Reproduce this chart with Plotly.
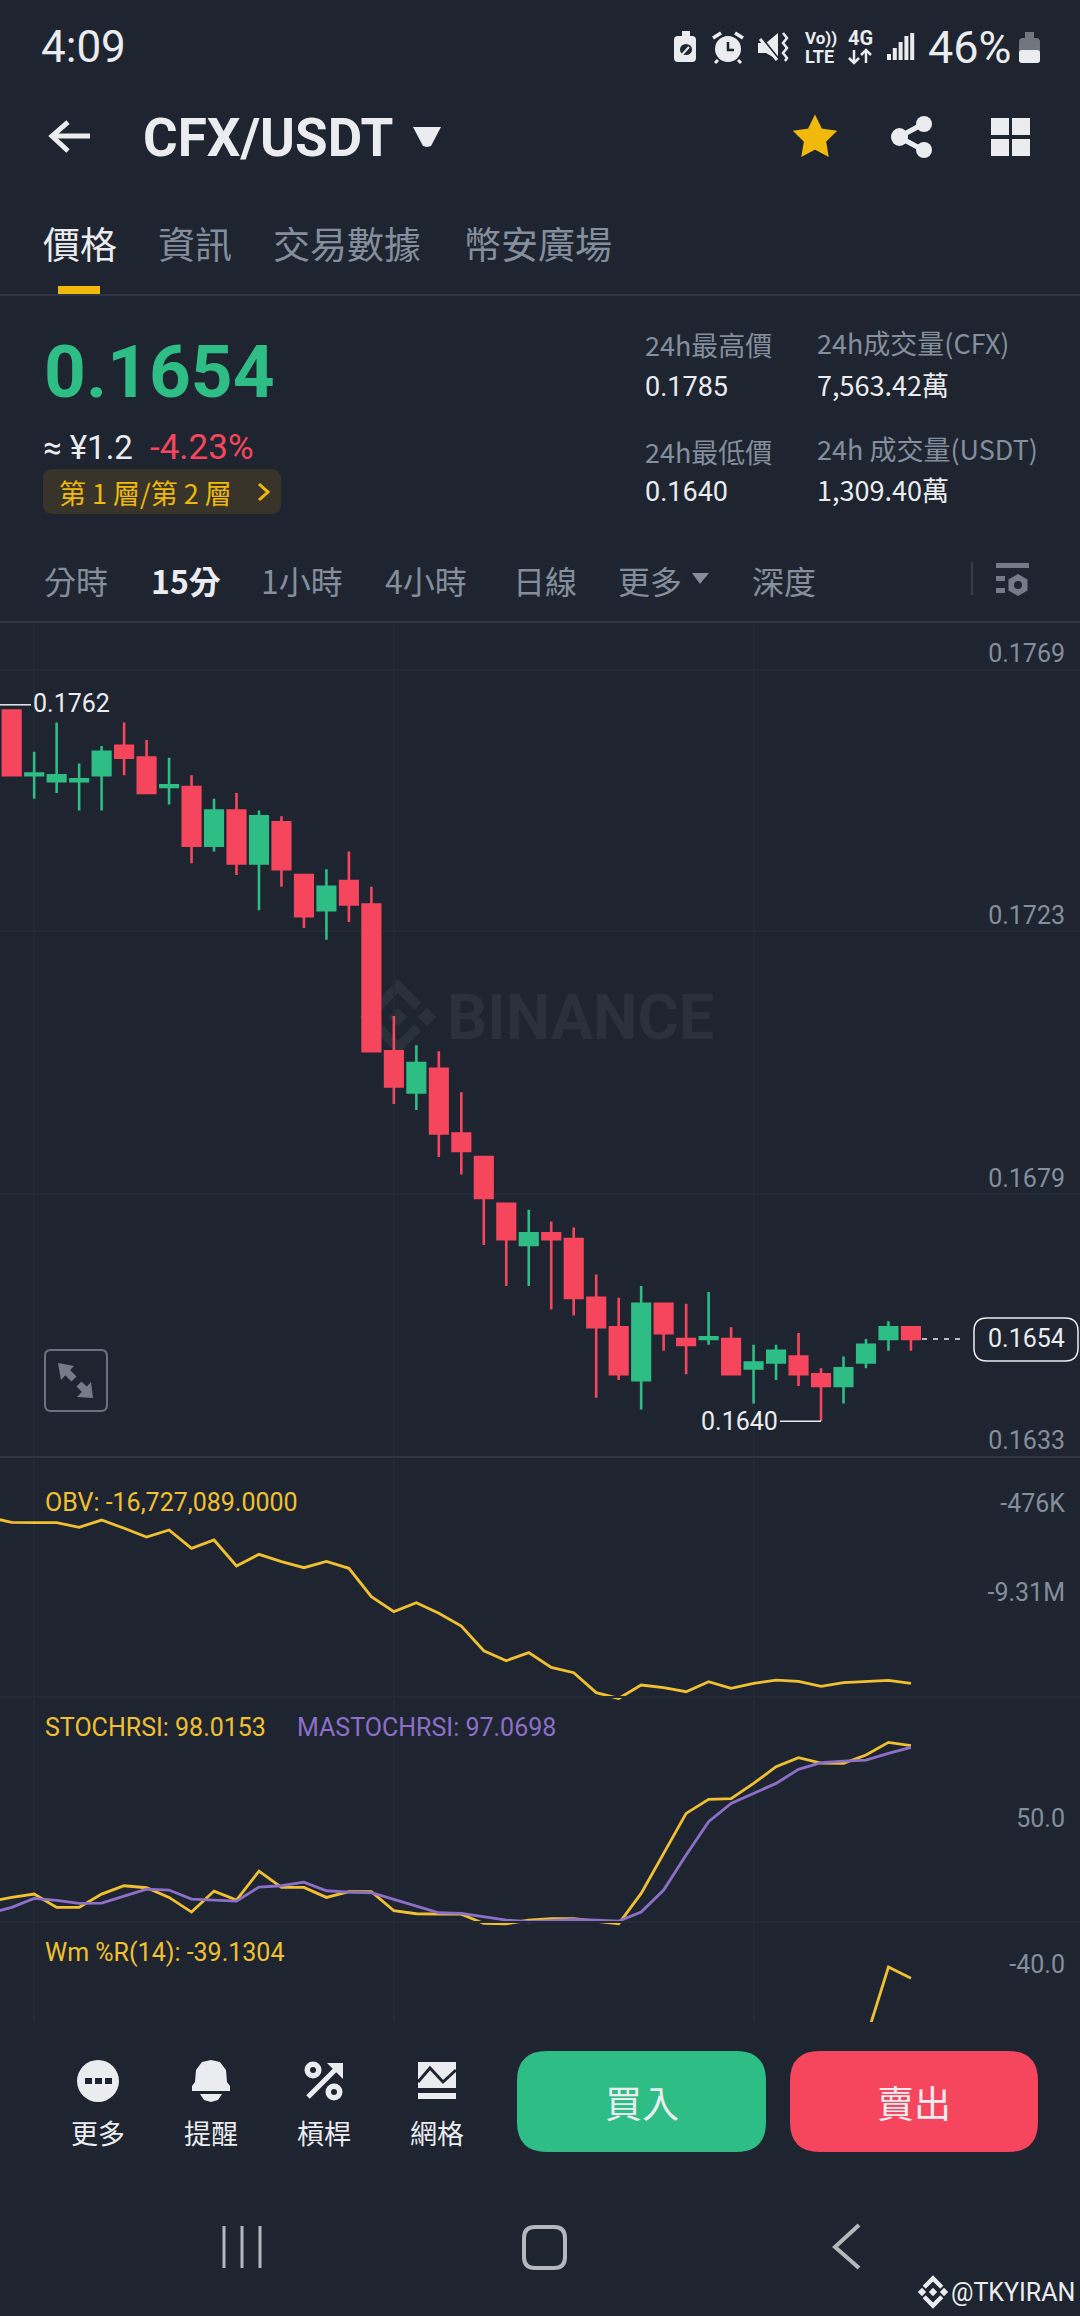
import math
import plotly.graph_objects as go

W, H = 1080, 2316
BG = '#1e2530'
GRID = '#232a35'
SEP = '#2f3541'
GRAY = '#848e9c'
ICON_GRAY = '#747c8a'
WHITE = '#eaecef'
GREEN = '#2ebd85'
RED = '#f6465d'
YELLOW = '#f0b90b'
LINE_YEL = '#f0c030'
PURPLE = '#8c6fc8'
MARK = '#2b313b'
LATIN = 'Roboto'
CJK = 'Noto Sans CJK TC'

# Candles, 15 min
open_ = [0.1761, 0.1750, 0.1749, 0.1749, 0.1750, 0.1755, 0.1753, 0.1748, 0.1748, 0.1738, 0.1744,
         0.1735, 0.1742, 0.1733, 0.1727, 0.1732, 0.1728, 0.1703, 0.1696, 0.1700, 0.1689, 0.1685,
         0.1677, 0.1670, 0.1672, 0.1671, 0.1661, 0.1656, 0.1647, 0.1660, 0.1654, 0.1654, 0.1654,
         0.1649, 0.1650, 0.1651, 0.1648, 0.1646, 0.1650, 0.1654, 0.1656]
close = [0.1750, 0.17503, 0.1750, 0.17493, 0.1754, 0.1753, 0.1747, 0.17483, 0.1738, 0.1744, 0.1735,
         0.1743, 0.1734, 0.1726, 0.1731, 0.1728, 0.1703, 0.1697, 0.1701, 0.1689, 0.1686, 0.1678,
         0.1671, 0.1672, 0.1671, 0.1661, 0.1656, 0.1648, 0.1660, 0.1655, 0.1653, 0.16543, 0.1648,
         0.1650, 0.1652, 0.1648, 0.1646, 0.1649, 0.1653, 0.1656, 0.1654]
high = [0.1761, 0.1754, 0.1759, 0.1752, 0.1755, 0.1759, 0.1756, 0.1753, 0.1750, 0.1746, 0.1747,
        0.1744, 0.1743, 0.1733, 0.1734, 0.1737, 0.1731, 0.1709, 0.1704, 0.1703, 0.1696, 0.1685,
        0.1677, 0.1676, 0.1674, 0.1673, 0.1665, 0.1661, 0.1663, 0.1660, 0.1660, 0.1662, 0.1656,
        0.1653, 0.1653, 0.1655, 0.1649, 0.1651, 0.1654, 0.1657, 0.1656]
low = [0.1750, 0.1746, 0.1747, 0.1744, 0.1744, 0.1750, 0.1747, 0.1745, 0.1735, 0.1737, 0.1733,
       0.1727, 0.1731, 0.1724, 0.1722, 0.1725, 0.1703, 0.1694, 0.1693, 0.1685, 0.1682, 0.1670,
       0.1663, 0.1663, 0.1659, 0.1658, 0.1644, 0.1647, 0.1642, 0.1652, 0.1648, 0.1653, 0.1648,
       0.1643, 0.1647, 0.1646, 0.1640, 0.1643, 0.1649, 0.1652, 0.1652]
candle_x = list(range(41))
price_ticks = [0.1768, 0.17235, 0.16787, 0.1634]
price_labels = ['0.1769', '0.1723', '0.1679', '0.1633']
grid_x = [1, 17, 33]

# Indicators start one bar off the left edge
line_x = list(range(-1, 41))
obv_m = [-0.24, -0.74, -0.77, -0.77, -1.23, -0.51, -1.33, -2.19, -1.50, -3.32, -2.49, -5.07, -3.91, -4.64,
         -5.24, -4.61, -5.30, -8.12, -9.60, -8.71, -9.77, -11.03, -13.48, -14.47, -13.67, -15.13, -15.66,
         -17.64, -18.21, -16.88, -17.15, -17.55, -16.55, -17.21, -16.72, -16.39, -16.52, -17.02, -16.65,
         -16.52, -16.42, -16.727]
stochrsi = [12.92, 15.29, 17.10, 9.83, 9.83, 17.10, 21.65, 20.56, 15.29, 7.28, 18.74, 13.83, 29.65, 20.74,
            20.74, 15.29, 18.38, 18.38, 8.01, 6.37, 6.19, 6.19, 1.10, 0.92, 2.92, 3.65, 3.65, 2.19, 0.92,
            17.47, 39.29, 61.11, 68.75, 69.11, 77.48, 86.57, 91.48, 88.57, 88.39, 92.93, 99.85, 98.0153]
mastochrsi = [6.56, 9.83, 14.74, 13.65, 12.01, 12.19, 16.01, 19.83, 19.29, 14.38, 13.83, 13.28, 20.92, 21.65,
              23.65, 18.92, 18.19, 17.83, 14.19, 10.56, 6.92, 6.56, 4.74, 2.92, 2.01, 2.56, 3.29, 2.92, 2.37,
              7.28, 19.29, 38.38, 56.56, 66.57, 72.02, 77.48, 85.12, 88.75, 89.66, 90.21, 93.84, 97.0698]
wm_x = [38, 39, 40]
wm_r = [-69.5, -33.5, -39.1304]


def X(px):
    return px / W


def Y(py):
    return 1 - py / H


def dom(top, bottom):
    return [1 - bottom / H, 1 - top / H]


shapes = []
notes = []


def text(s, x, y, size, color=WHITE, anchor='left', font=LATIN, bold=False):
    if bold:
        s = '<b>' + s + '</b>'
    notes.append(dict(text=s, x=X(x), y=Y(y), xref='paper', yref='paper', showarrow=False, xanchor=anchor,
                      yanchor='middle', borderpad=0, font=dict(family=font, size=size, color=color)))


def line(x0, y0, x1, y1, color=SEP, width=2):
    shapes.append(dict(type='line', xref='paper', yref='paper', x0=X(x0), y0=Y(y0), x1=X(x1), y1=Y(y1),
                       line=dict(color=color, width=width)))


def rect(x0, y0, x1, y1, color):
    shapes.append(dict(type='rect', xref='paper', yref='paper', x0=X(x0), y0=Y(y0), x1=X(x1), y1=Y(y1),
                       fillcolor=color, line=dict(width=0)))


def oval(x0, y0, x1, y1, fill=None, color=None, width=0):
    shapes.append(dict(type='circle', xref='paper', yref='paper', x0=X(x0), y0=Y(y0), x1=X(x1), y1=Y(y1),
                       fillcolor=fill or 'rgba(0,0,0,0)', line=dict(width=width, color=color or 'rgba(0,0,0,0)')))


def poly(points, fill=None, color=None, width=0, closed=True, layer='above'):
    d = 'M' + ' L'.join('%.5f,%.5f' % (X(a), Y(b)) for a, b in points)
    if closed:
        d += ' Z'
    shapes.append(dict(type='path', xref='paper', yref='paper', path=d, layer=layer,
                       fillcolor=fill or 'rgba(0,0,0,0)', line=dict(width=width, color=color or 'rgba(0,0,0,0)')))


def rrect(x0, y0, x1, y1, r, fill=None, color=None, width=0):
    p = lambda a, b: '%.5f,%.5f' % (X(a), Y(b))
    d = ('M' + p(x0 + r, y0) + ' L' + p(x1 - r, y0) + ' Q' + p(x1, y0) + ' ' + p(x1, y0 + r)
         + ' L' + p(x1, y1 - r) + ' Q' + p(x1, y1) + ' ' + p(x1 - r, y1)
         + ' L' + p(x0 + r, y1) + ' Q' + p(x0, y1) + ' ' + p(x0, y1 - r)
         + ' L' + p(x0, y0 + r) + ' Q' + p(x0, y0) + ' ' + p(x0 + r, y0) + ' Z')
    shapes.append(dict(type='path', xref='paper', yref='paper', path=d,
                       fillcolor=fill or 'rgba(0,0,0,0)', line=dict(width=width, color=color or 'rgba(0,0,0,0)')))


def logo(cx, cy, h, dx, color, layer):
    # two chevrons and three diamonds
    w = 0.27 * h
    poly([(cx - 0.55 * h, cy - 0.3 * h), (cx, cy - 0.85 * h), (cx + 0.55 * h, cy - 0.3 * h)],
         color=color, width=w, closed=False, layer=layer)
    poly([(cx - 0.55 * h, cy + 0.3 * h), (cx, cy + 0.85 * h), (cx + 0.55 * h, cy + 0.3 * h)],
         color=color, width=w, closed=False, layer=layer)
    r = 0.26 * h
    for c in (cx - dx, cx, cx + dx):
        poly([(c, cy - r), (c + r, cy), (c, cy + r), (c - r, cy)], fill=color, layer=layer)


# Status bar
text('4:09', 40, 47, 44, WHITE)
rrect(674, 36, 696, 62, 4, fill=WHITE)
rect(682, 31, 690, 36, WHITE)
oval(680, 44, 692, 55, fill=BG)
line(679, 58, 689, 47, WHITE, 2)
oval(715, 36, 741, 62, fill=WHITE)
line(713, 38, 721, 33, WHITE, 3.5)
line(735, 33, 743, 38, WHITE, 3.5)
line(718, 60, 715, 63, WHITE, 3)
line(738, 60, 741, 63, WHITE, 3)
poly([(728, 42), (728, 50), (734, 50)], color=BG, width=2.5, closed=False)
poly([(758, 43), (766, 43), (778, 33), (778, 60), (766, 53), (758, 53)], fill=WHITE)
line(759, 36, 780, 62, BG, 4)
line(760, 39, 777, 60, WHITE, 3)
poly([(783, 33), (787, 38), (783, 43), (787, 48), (783, 53), (787, 58), (785, 61)], color=WHITE, width=2.5, closed=False)
text('<b>Vo))</b>', 804, 38, 17, WHITE)
text('<b>LTE</b>', 804, 57, 18, WHITE)
text('<b>4G</b>', 847, 38, 20, WHITE)
line(854, 50, 854, 63, WHITE, 2.5)
poly([(849, 58), (854, 63), (859, 58)], color=WHITE, width=2.5, closed=False)
line(866, 50, 866, 63, WHITE, 2.5)
poly([(861, 55), (866, 50), (871, 55)], color=WHITE, width=2.5, closed=False)
for i, top in enumerate([54, 48, 42, 36, 33]):
    rect(887 + i * 5.8, top, 891 + i * 5.8, 60, WHITE)
text('46%', 927, 48, 45, WHITE)
rrect(1019, 38, 1040, 63, 4, fill='#71757d')
rrect(1019, 50, 1040, 63, 3, fill=WHITE)
rect(1025, 32, 1034, 38, '#71757d')

# Title row
line(53, 136, 90, 136, WHITE, 5)
poly([(68, 122), (52, 136), (68, 151)], color=WHITE, width=5, closed=False)
text('CFX/USDT', 142, 138, 53, WHITE, bold=True)
poly([(413, 127), (441, 127), (431, 146), (427, 147), (423, 146)], fill=WHITE)
star = []
for i in range(10):
    r = 20 if i % 2 == 0 else 10
    a = -math.pi / 2 + i * math.pi / 5
    star.append((815 + r * math.cos(a), 138 + r * math.sin(a)))
poly(star, fill=YELLOW, color=YELLOW, width=3)
line(923, 124, 899, 137, WHITE, 5)
line(899, 137, 923, 150, WHITE, 5)
oval(916, 116, 932, 132, fill=WHITE)
oval(891, 128, 908, 146, fill=WHITE)
oval(916, 142, 932, 158, fill=WHITE)
for a, b in [(991, 118), (1012, 118), (991, 139), (1012, 139)]:
    rect(a, b, a + 18, b + 17, WHITE)

# Tabs
text('價格', 42, 243, 37, WHITE, font=CJK)
text('資訊', 157, 243, 37, GRAY, font=CJK)
text('交易數據', 272, 243, 37, GRAY, font=CJK)
text('幣安廣場', 463, 243, 37, GRAY, font=CJK)
rect(58, 286, 100, 295, YELLOW)
line(0, 295, W, 295)

# Ticker
text('0.1654', 43, 372, 73, GREEN, bold=True)
text('≈ ¥1.2', 42, 447, 33, WHITE)
text('-4.23%', 149, 447, 35, RED)
rrect(43, 469, 281, 514, 10, fill='#38342a')
text('第 1 層/第 2 層', 58, 493, 27, YELLOW, font=CJK)
poly([(259, 484), (268, 492), (259, 500)], color=YELLOW, width=3, closed=False)
text('24h最高價', 644, 345, 27, GRAY, font=CJK)
text('24h成交量(CFX)', 816, 343, 27, GRAY, font=CJK)
text('0.1785', 644, 387, 27, WHITE)
text('7,563.42萬', 816, 384, 27, WHITE, font=CJK)
text('24h最低價', 644, 451, 27, GRAY, font=CJK)
text('24h 成交量(USDT)', 816, 449, 27, GRAY, font=CJK)
text('0.1640', 644, 492, 27, WHITE)
text('1,309.40萬', 816, 490, 27, WHITE, font=CJK)

# Intervals
text('分時', 43, 580, 32, GRAY, font=CJK)
text('15分', 150, 580, 32, WHITE, font=CJK, bold=True)
text('1小時', 260, 580, 32, GRAY, font=CJK)
text('4小時', 384, 580, 32, GRAY, font=CJK)
text('日線', 512, 580, 32, GRAY, font=CJK)
text('更多', 617, 580, 32, GRAY, font=CJK)
poly([(692, 573), (709, 573), (700, 584)], fill=GRAY)
text('深度', 751, 580, 32, GRAY, font=CJK)
line(972, 562, 972, 595, '#343b47', 2.5)
rect(996, 563, 1029, 568, ICON_GRAY)
rect(996, 576, 1005, 581, ICON_GRAY)
rect(996, 588, 1005, 593, ICON_GRAY)
poly([(1018 + 11 * math.cos(math.pi / 6 + i * math.pi / 3), 585 + 11 * math.sin(math.pi / 6 + i * math.pi / 3))
      for i in range(6)], fill=ICON_GRAY)
oval(1014, 581, 1022, 589, fill=BG)
line(0, 622, W, 622)

# Watermark under the candles
logo(398, 1017, 36, 29, MARK, 'below')
text('BINANCE', 446, 1017, 63, MARK, bold=True)

# Panel separators
line(0, 1457, W, 1457)
line(0, 1697, W, 1697, GRID, 2)
line(0, 1922, W, 1922, GRID, 2)

# Price markers
shapes.append(dict(type='line', xref='paper', yref='y', x0=0, x1=X(31), y0=0.1762, y1=0.1762,
                   line=dict(color=WHITE, width=1.5)))
notes.append(dict(text='0.1762', xref='paper', yref='y', x=X(32), y=0.1762, yshift=1, xanchor='left', yanchor='middle',
                  showarrow=False, borderpad=0, font=dict(family=LATIN, size=25, color=WHITE)))
shapes.append(dict(type='line', xref='paper', yref='y', x0=X(780), x1=X(821), y0=0.1640, y1=0.1640,
                   line=dict(color=WHITE, width=1.5)))
notes.append(dict(text='0.1640', xref='paper', yref='y', x=X(779), y=0.1640, xanchor='right', yanchor='middle',
                  showarrow=False, borderpad=0, font=dict(family=LATIN, size=25, color=WHITE)))
shapes.append(dict(type='line', xref='paper', yref='y', x0=X(922), x1=X(961), y0=0.1654, y1=0.1654,
                   line=dict(color=WHITE, width=1.5, dash='5px,6px')))
rrect(974, 1318, 1078, 1361, 13, fill=BG, color=WHITE, width=1.5)
notes.append(dict(text='0.1654', xref='paper', yref='y', x=X(1026), y=0.1654, xanchor='center', yanchor='middle',
                  showarrow=False, borderpad=0, font=dict(family=LATIN, size=25, color=WHITE)))

# Expand button
rrect(45, 1350, 107, 1411, 6, color='#6a7280', width=2)
poly([(58, 1363), (74, 1366), (61, 1380)], fill=ICON_GRAY)
poly([(93, 1398), (77, 1397), (91, 1382)], fill=ICON_GRAY)
line(65, 1370, 74, 1379, ICON_GRAY, 7)
line(79, 1384, 87, 1392, ICON_GRAY, 7)

# Indicator legends
text('OBV: -16,727,089.0000', 44, 1502, 25, LINE_YEL)
text('STOCHRSI: 98.0153', 44, 1727, 25, LINE_YEL)
text('MASTOCHRSI: 97.0698', 296, 1727, 25, PURPLE)
text('Wm %R(14): -39.1304', 44, 1952, 25, LINE_YEL)

# Bottom bar
oval(77, 2060, 119, 2102, fill=WHITE)
for a in (85, 95, 105):
    rect(a, 2078, a + 7, 2084, BG)
poly([(211, 2060), (220, 2062), (226, 2070), (227, 2082), (230, 2086), (230, 2091), (192, 2091), (192, 2086),
      (195, 2082), (196, 2070), (202, 2062)], fill=WHITE)
poly([(200, 2094), (222, 2094), (218, 2100), (211, 2102), (204, 2100)], fill=WHITE)
line(308, 2097, 338, 2067, WHITE, 5)
poly([(327, 2063), (343, 2063), (343, 2079)], fill=WHITE)
for a, b in [(313, 2070), (334, 2092)]:
    oval(a - 8.5, b - 8.5, a + 8.5, b + 8.5, fill=WHITE)
    oval(a - 3, b - 3, a + 3, b + 3, fill=BG)
rect(418, 2062, 456, 2088, WHITE)
rect(418, 2093, 456, 2099, WHITE)
poly([(418, 2082), (430, 2068), (443, 2082), (456, 2070)], color=BG, width=3, closed=False)
for s, a in [('更多', 98), ('提醒', 211), ('槓桿', 324), ('網格', 437)]:
    text(s, a, 2132, 27, WHITE, anchor='center', font=CJK)
rrect(517, 2051, 766, 2152, 30, fill=GREEN)
rrect(790, 2051, 1038, 2152, 30, fill=RED)
text('買入', 642, 2102, 37, WHITE, anchor='center', font=CJK)
text('賣出', 914, 2102, 37, WHITE, anchor='center', font=CJK)

# Android nav
for a in (224, 242, 260):
    line(a, 2226, a, 2268, '#b4b7bc', 3)
rrect(524, 2227, 565, 2268, 11, color='#b4b7bc', width=4)
poly([(859, 2225), (835, 2247), (859, 2268)], color='#b4b7bc', width=4, closed=False)
logo(933, 2292, 16, 11, WHITE, 'above')
text('@TKYIRAN', 950, 2292, 25, WHITE)

fig = go.Figure()
fig.add_trace(go.Candlestick(
    x=candle_x, open=open_, high=high, low=low, close=close, whiskerwidth=0,
    increasing=dict(line=dict(color=GREEN, width=2.6), fillcolor=GREEN),
    decreasing=dict(line=dict(color=RED, width=2.6), fillcolor=RED),
    xaxis='x', yaxis='y'))
fig.add_trace(go.Scatter(x=line_x, y=obv_m, mode='lines', line=dict(color=LINE_YEL, width=2.8),
                         xaxis='x2', yaxis='y2', cliponaxis=False))
fig.add_trace(go.Scatter(x=line_x, y=stochrsi, mode='lines', line=dict(color=LINE_YEL, width=2.8),
                         xaxis='x3', yaxis='y3', cliponaxis=False))
fig.add_trace(go.Scatter(x=line_x, y=mastochrsi, mode='lines', line=dict(color=PURPLE, width=2.8),
                         xaxis='x3', yaxis='y3', cliponaxis=False))
fig.add_trace(go.Scatter(x=wm_x, y=wm_r, mode='lines', line=dict(color=LINE_YEL, width=2.8),
                         xaxis='x4', yaxis='y4'))

xaxis_common = dict(range=[-0.52, 47.52], showticklabels=False, tickvals=grid_x, showgrid=True, gridcolor=GRID,
                    gridwidth=1.5, zeroline=False, showline=False, ticks='', fixedrange=True)
yaxis_common = dict(side='right', ticklabelposition='inside', ticklabelstandoff=12, ticklabelshift=-16, ticks='',
                    zeroline=False, showline=False, fixedrange=True,
                    tickfont=dict(family=LATIN, size=25, color=GRAY))

fig.update_layout(
    width=W, height=H,
    margin=dict(l=0, r=0, t=0, b=0),
    paper_bgcolor=BG, plot_bgcolor='rgba(0,0,0,0)',
    showlegend=False,
    hovermode=False,
    boxgap=0.22,
    boxgroupgap=0,
    font=dict(family=LATIN, color=WHITE),
    shapes=shapes,
    annotations=notes,
    xaxis=dict(domain=[0, 1], anchor='y', rangeslider=dict(visible=False), **xaxis_common),
    xaxis2=dict(domain=[0, 1], anchor='y2', **xaxis_common),
    xaxis3=dict(domain=[0, 1], anchor='y3', **xaxis_common),
    xaxis4=dict(domain=[0, 1], anchor='y4', **xaxis_common),
    yaxis=dict(domain=dom(622, 1457), range=[0.16339, 0.17761], tickvals=price_ticks, ticktext=price_labels,
               showgrid=True, gridcolor=GRID, gridwidth=1.5, anchor='x', **yaxis_common),
    yaxis2=dict(domain=dom(1457, 1700), range=[-18.37, 5.748], tickvals=[-0.476, -9.31],
                ticktext=['-476K', '-9.31M'], showgrid=False, anchor='x2', **yaxis_common),
    yaxis3=dict(domain=dom(1697, 1928), range=[-1.4, 124.6], tickvals=[50], ticktext=['50.0'],
                showgrid=False, anchor='x3', **yaxis_common),
    yaxis4=dict(domain=dom(1922, 2022), range=[-61, -11], tickvals=[-40], ticktext=['-40.0'],
                showgrid=False, anchor='x4', **yaxis_common),
)

fig.write_html('out.html', config=dict(displayModeBar=False),
               post_script="document.body.style.margin='0';document.body.style.background='%s';"
                           "document.documentElement.style.overflow='hidden';" % BG)
